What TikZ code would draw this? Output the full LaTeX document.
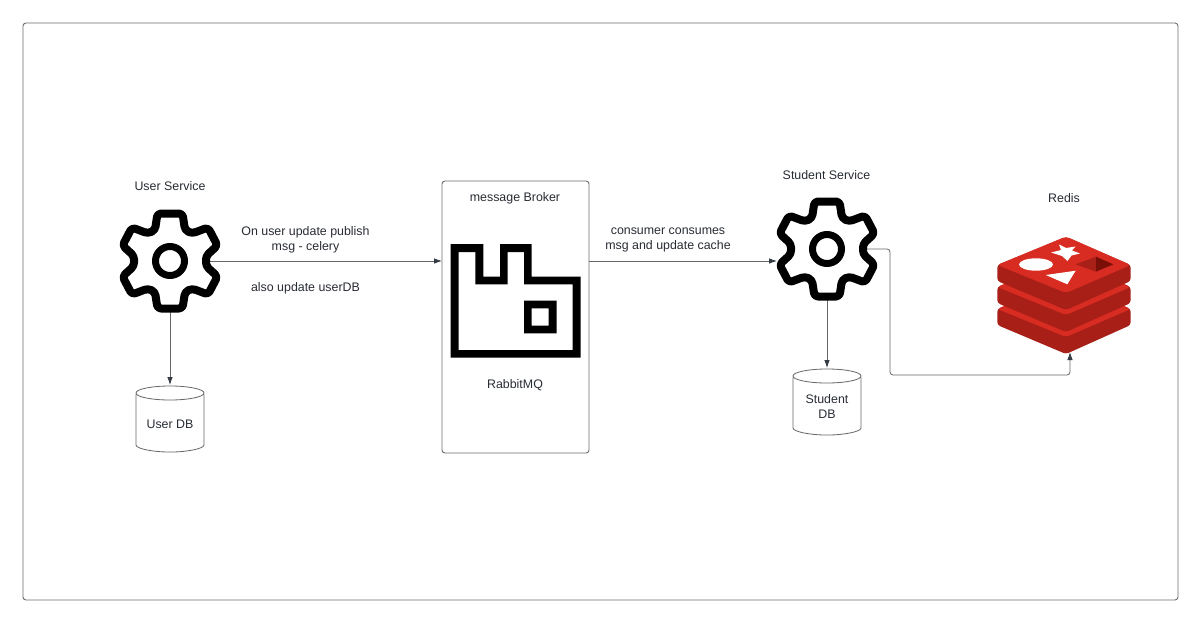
\documentclass[tikz,border=0pt]{standalone}
\usepackage{fontspec}
\setmainfont{Liberation Sans}
\usetikzlibrary{arrows.meta,calc}
\definecolor{framegray}{HTML}{6E6E6E}
\definecolor{linegray}{HTML}{666666}
\definecolor{tipdark}{HTML}{343B45}
\definecolor{inkdark}{HTML}{282C33}
\definecolor{redisface}{HTML}{D82B21}
\definecolor{redisside}{HTML}{A81F17}
\definecolor{redisdark}{HTML}{7A0F08}
\definecolor{redismid}{HTML}{A92019}
\tikzset{
  lbl/.style={font=\fontsize{12.4}{15}\selectfont,text=inkdark,inner sep=0pt,align=center},
  frameline/.style={draw=framegray,line width=0.9pt,rounded corners=3pt},
  link/.style={draw=linegray,line width=0.8pt,-{Latex[length=8pt,width=5.5pt,color=tipdark]}},
  gearnode/.style={minimum width=100pt,minimum height=102pt,inner sep=0pt,outer sep=0pt},
  cylnode/.style={minimum width=68pt,minimum height=68pt,inner sep=0pt,outer sep=0pt},
  cylline/.style={draw=linegray,line width=0.8pt,fill=white},
  gearshape/.pic={
    \draw[black,line width=8pt,line join=round,fill=white,rounded corners=3.5pt]
      (-12.5,-47.5)--(12.5,-47.5)--(15,-31)--(22,-27.5)--(38,-33.5)--(47.5,-15.5)--(36,-5)--(36,5)
      --(47.5,15.5)--(38,33.5)--(22,27.5)--(15,31)--(12.5,47.5)--(-12.5,47.5)--(-15,31)--(-22,27.5)
      --(-38,33.5)--(-47.5,15.5)--(-36,5)--(-36,-5)--(-47.5,-15.5)--(-38,-33.5)--(-22,-27.5)--(-15,-31)--cycle;
    \draw[black,line width=7pt] (0,0) circle[radius=14.5];
  },
  cylshape/.pic={
    \path[cylline,rounded corners=2pt] (-34,-26) -- (-34,24) .. controls (-34,30) and (-15,33) .. (0,33)
       .. controls (15,33) and (34,30) .. (34,24) -- (34,-26) -- cycle;
    \draw[cylline] (0,-26) ellipse[x radius=34,y radius=7];
  },
  redislayer/.pic={
    \fill[redisside,rounded corners=3pt] (-68.7,0)--(-68.7,16)--(0,45)--(64.7,16)--(64.7,0)--(0,-28)--cycle;
    \fill[redisface,rounded corners=3.5pt] (-68.7,0)--(0,-28.5)--(64.7,0)--(0,28)--cycle;
  }
}
\begin{document}
\begin{tikzpicture}[x=1pt,y=-1pt]
\useasboundingbox (0,0) rectangle (1200,623);
\fill[white] (0,0) rectangle (1200,623);
\node[frameline,minimum width=1155pt,minimum height=577pt,inner sep=0pt] (outerframe) at (600.5,311.5) {};

% nodes
\node[gearnode] (usergear) at (170,261) {};
\node[gearnode] (studentgear) at (827,249) {};
\node[cylnode] (userdb) at (170,419) {};
\node[cylnode] (studentdb) at (827,402) {};
\node[frameline,minimum width=147pt,minimum height=272pt,inner sep=0pt,outer sep=0pt] (broker) at (515.5,317) {};
\node[minimum width=134pt,minimum height=115pt,inner sep=0pt,outer sep=0pt] (redis) at (1064,294.5) {};

% connectors
\draw[link,shorten <=-10pt] (usergear.east) -- (usergear.east -| broker.west);
\draw[link] (broker.east |- usergear.east) -- (usergear.east -| studentgear.west);
\draw[link] (usergear.south) -- (userdb.north);
\draw[link] (studentgear.south) -- (studentdb.north);
\draw[link,rounded corners=3pt] (studentgear.center) ++(40,0) -| (890,375) -| ([xshift=6pt]redis.south);

% gears and cylinders
\pic at (usergear.center) {gearshape};
\pic at (studentgear.center) {gearshape};
\pic at (userdb.center) {cylshape};
\pic at (studentdb.center) {cylshape};

% RabbitMQ logo
\fill[black,even odd rule]
  (450.7,244)--(483.3,244)--(483.3,276.7)--(500,276.7)--(500,244)--(531.7,244)--(531.7,276.7)--(580.7,276.7)--(580.7,357.7)--(450.7,357.7)--cycle
  (458.7,252)--(475.3,252)--(475.3,284.3)--(507.7,284.3)--(507.7,252)--(524,252)--(524,284.3)--(572.7,284.3)--(572.7,350)--(458.7,350)--cycle
  (524,300.7) rectangle (556.7,333.3)
  (531.7,308.3) rectangle (548.7,325.7);

% Redis logo
\pic at (1066,309) {redislayer};
\pic at (1066,287) {redislayer};
\pic at (1066,265) {redislayer};
\fill[white] (1036,264.5) ellipse[x radius=17,y radius=6.2];
\fill[white] (1059,244.5) -- (1066,248) -- (1075.5,246.5) -- (1072,250.5) -- (1080,253.5) -- (1071.5,255.5) -- (1067.5,261) -- (1062,256) -- (1051,252.5) -- (1061,250) -- cycle;
\fill[white] (1045.7,275) -- (1075.7,270.7) -- (1067.3,284.3) -- cycle;
\fill[redismid] (1075.7,264.3) -- (1096,256.7) -- (1096,271.7) -- cycle;
\fill[redisdark] (1096,256.7) -- (1113.3,264.3) -- (1096,271.7) -- cycle;

% labels
\node[lbl] (userlabel) at (170,186) {User Service};
\node[lbl] (publishlabel) at (305.5,240) {On user update publish\\msg - celery};
\node[lbl] (alsolabel) at (305.5,288.5) {also update userDB};
\node[lbl] (brokerlabel) at (515,198.5) {message Broker};
\node[lbl] (rabbitlabel) at (515,385) {RabbitMQ};
\node[lbl] (consumerlabel) at (668,240) {consumer consumes\\msg and update cache};
\node[lbl] (studentlabel) at (826.5,175.5) {Student Service};
\node[lbl] (redislabel) at (1064,198) {Redis};
\node[lbl] at (userdb.center) [yshift=-5pt] {User DB};
\node[lbl] at (studentdb.center) [yshift=-5pt] {Student\\DB};
\end{tikzpicture}
\end{document}
